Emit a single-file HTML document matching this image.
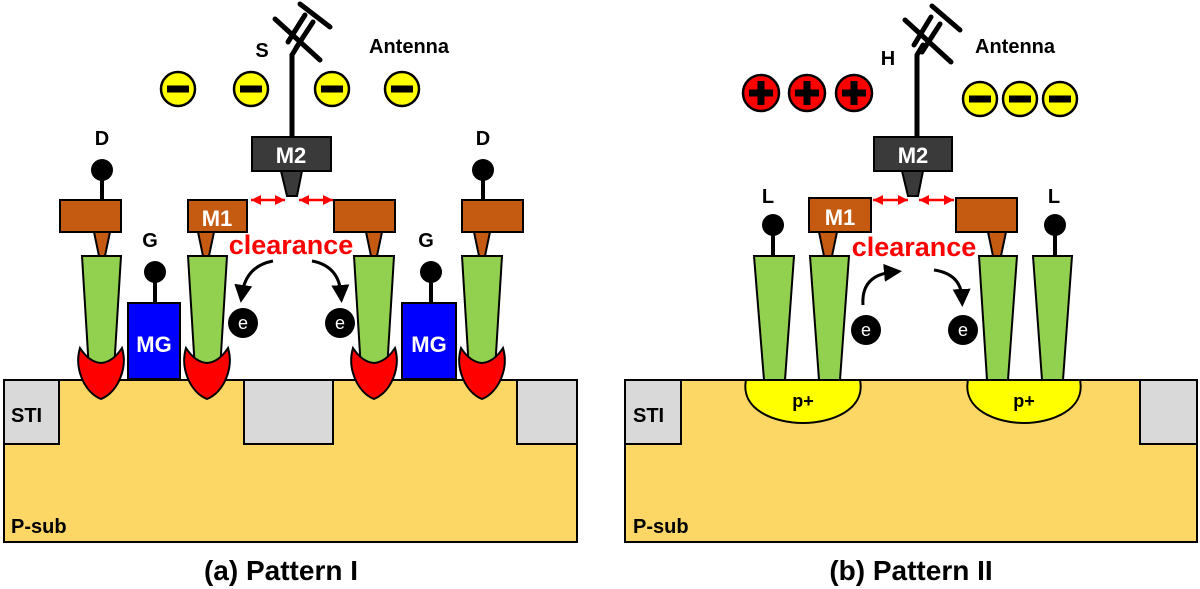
<!DOCTYPE html>
<html><head><meta charset="utf-8"><style>
html,body{margin:0;padding:0;background:#fff;}
svg{display:block;font-family:"Liberation Sans",sans-serif;font-weight:bold;}
</style></head><body>
<svg width="1200" height="589" viewBox="0 0 1200 589" xmlns="http://www.w3.org/2000/svg">
<defs>
<g id="minus"><circle r="17" fill="#ffff00" stroke="#000" stroke-width="2.5"/><rect x="-11" y="-3.5" width="22" height="7" fill="#000"/></g>
<g id="plus"><circle r="18" fill="#ff0000" stroke="#000" stroke-width="2.5"/><rect x="-12" y="-3.5" width="24" height="7" fill="#000"/><rect x="-3.5" y="-12" width="7" height="24" fill="#000"/></g>
<g id="ecirc"><circle r="15" fill="#000"/><text x="0" y="6" font-size="18" fill="#fff" text-anchor="middle" font-weight="normal">e</text></g>
<marker id="ah" markerWidth="6" markerHeight="6" refX="3" refY="3" orient="auto" markerUnits="strokeWidth"><path d="M0,0 L6,3 L0,6 Z" fill="#000"/></marker>
<marker id="ra" markerWidth="4" markerHeight="4" refX="4" refY="2" orient="auto-start-reverse" markerUnits="strokeWidth"><path d="M0,0 L4,2 L0,4 Z" fill="#f00"/></marker>
</defs>

<!-- ============ LEFT PANEL ============ -->
<rect x="4" y="380" width="573" height="162" fill="#fdd766" stroke="#000" stroke-width="2"/>
<rect x="4" y="380" width="55" height="64" fill="#d9d9d9" stroke="#000" stroke-width="2"/>
<rect x="244" y="380" width="89" height="64" fill="#d9d9d9" stroke="#000" stroke-width="2"/>
<rect x="517" y="380" width="60" height="64" fill="#d9d9d9" stroke="#000" stroke-width="2"/>
<text x="11" y="422" font-size="20">STI</text>
<text x="11" y="533" font-size="20">P-sub</text>
<text x="281" y="580" font-size="28" text-anchor="middle">(a) Pattern I</text>

<g stroke="#000" stroke-width="5" fill="none" stroke-linecap="round">
<path d="M292,137 L292,55 L298,45"/>
<line x1="275" y1="19" x2="320" y2="60"/>
<line x1="300" y1="4" x2="330" y2="27"/>
<line x1="288" y1="42" x2="305" y2="15"/>
<line x1="296" y1="48" x2="313" y2="22"/>
</g>
<text x="262" y="57" font-size="20" text-anchor="middle">S</text>
<text x="369" y="53" font-size="20">Antenna</text>
<use href="#minus" x="178" y="89"/><use href="#minus" x="251" y="89"/><use href="#minus" x="332" y="89"/><use href="#minus" x="402" y="89"/>

<rect x="252" y="137" width="79" height="34" fill="#3a3a3a" stroke="#000" stroke-width="2"/>
<text x="291" y="163" font-size="22" fill="#fff" text-anchor="middle">M2</text>
<path d="M281,171 L302,171 L297,196 L287,196 Z" fill="#3a3a3a" stroke="#000" stroke-width="2"/>
<g stroke="#f00" stroke-width="2.5" marker-end="url(#ra)" marker-start="url(#ra)">
<line x1="251" y1="200" x2="285" y2="200"/>
<line x1="299" y1="200" x2="333" y2="200"/>
</g>

<g fill="#c55a11" stroke="#000" stroke-width="2">
<rect x="60" y="200" width="61" height="32"/>
<rect x="188" y="200" width="59" height="32"/>
<rect x="334" y="200" width="61" height="32"/>
<rect x="462" y="200" width="61" height="32"/>
<path d="M94,232 L110,232 L105,256 L99,256 Z"/>
<path d="M198,232 L214,232 L209,256 L203,256 Z"/>
<path d="M366,232 L382,232 L377,256 L371,256 Z"/>
<path d="M474,232 L490,232 L485,256 L479,256 Z"/>
</g>
<text x="217" y="226" font-size="22" fill="#fff" text-anchor="middle">M1</text>

<g stroke="#000" stroke-width="4"><line x1="102" y1="170" x2="102" y2="200"/><line x1="483" y1="170" x2="483" y2="200"/>
<line x1="155" y1="272" x2="155" y2="303"/><line x1="431" y1="272" x2="431" y2="303"/></g>
<circle cx="102" cy="170" r="11"/><circle cx="483" cy="170" r="11"/>
<circle cx="155" cy="272" r="11"/><circle cx="431" cy="272" r="11"/>
<text x="102" y="145" font-size="20" text-anchor="middle">D</text>
<text x="483" y="145" font-size="20" text-anchor="middle">D</text>
<text x="150" y="247" font-size="20" text-anchor="middle">G</text>
<text x="426" y="247" font-size="20" text-anchor="middle">G</text>

<g fill="#92d050" stroke="#000" stroke-width="2">
<path d="M82,256 L121,256 L114,370 L89,370 Z"/>
<path d="M188,256 L227,256 L220,370 L195,370 Z"/>
<path d="M354,256 L394,256 L387,370 L361,370 Z"/>
<path d="M462,256 L502,256 L495,370 L469,370 Z"/>
</g>
<rect x="128" y="303" width="52" height="76" fill="#0000ff" stroke="#000" stroke-width="2"/>
<rect x="402" y="303" width="54" height="76" fill="#0000ff" stroke="#000" stroke-width="2"/>
<text x="154" y="352" font-size="22" fill="#fff" text-anchor="middle">MG</text>
<text x="429" y="352" font-size="22" fill="#fff" text-anchor="middle">MG</text>
<g fill="#ff0000" stroke="#000" stroke-width="2">
<path d="M80,348 C74,368 84,392 101,399 C118,392 128,368 122,348 Q113,362 101,363 Q89,362 80,348 Z"/>
<path d="M186,348 C180,368 190,392 207,399 C224,392 234,368 228,348 Q219,362 207,363 Q195,362 186,348 Z"/>
<path d="M353,348 C347,368 357,392 374,399 C391,392 401,368 395,348 Q386,362 374,363 Q362,362 353,348 Z"/>
<path d="M461,348 C455,368 465,392 482,399 C499,392 509,368 503,348 Q494,362 482,363 Q470,362 461,348 Z"/>
</g>

<text x="291" y="254" font-size="27" fill="#ff0000" text-anchor="middle">clearance</text>
<g stroke="#000" stroke-width="3" fill="none" marker-end="url(#ah)">
<path d="M273,261 Q246,266 242,294"/>
<path d="M312,261 Q339,266 341,294"/>
</g>
<use href="#ecirc" x="243" y="323"/><use href="#ecirc" x="340" y="323"/>

<!-- ============ RIGHT PANEL ============ -->
<rect x="625" y="380" width="572" height="162" fill="#fdd766" stroke="#000" stroke-width="2"/>
<rect x="625" y="380" width="56" height="64" fill="#d9d9d9" stroke="#000" stroke-width="2"/>
<rect x="1140" y="380" width="57" height="64" fill="#d9d9d9" stroke="#000" stroke-width="2"/>
<text x="633" y="422" font-size="20">STI</text>
<text x="633" y="533" font-size="20">P-sub</text>
<text x="911" y="580" font-size="28" text-anchor="middle">(b) Pattern II</text>
<path d="M746,380 C740,410 775,423 803,423 C831,423 866,410 860,380 Z" fill="#ffff00" stroke="#000" stroke-width="2"/>
<path d="M968,380 C962,410 997,423 1024,423 C1051,423 1086,410 1080,380 Z" fill="#ffff00" stroke="#000" stroke-width="2"/>
<text x="803" y="407" font-size="18" text-anchor="middle">p+</text>
<text x="1024" y="407" font-size="18" text-anchor="middle">p+</text>

<g stroke="#000" stroke-width="5" fill="none" stroke-linecap="round">
<path d="M917,137 L917,55 L923,45"/>
<line x1="905" y1="20" x2="951" y2="62"/>
<line x1="932" y1="6" x2="960" y2="30"/>
<line x1="914" y1="45" x2="931" y2="17"/>
<line x1="922" y1="52" x2="940" y2="24"/>
</g>
<text x="888" y="65" font-size="20" text-anchor="middle">H</text>
<text x="975" y="53" font-size="20">Antenna</text>
<use href="#plus" x="761" y="93"/><use href="#plus" x="807" y="93"/><use href="#plus" x="854" y="93"/>
<use href="#minus" x="980" y="99"/><use href="#minus" x="1020" y="99"/><use href="#minus" x="1060" y="99"/>

<rect x="874" y="137" width="78" height="34" fill="#3a3a3a" stroke="#000" stroke-width="2"/>
<text x="913" y="163" font-size="22" fill="#fff" text-anchor="middle">M2</text>
<path d="M902,171 L923,171 L918,196 L908,196 Z" fill="#3a3a3a" stroke="#000" stroke-width="2"/>
<g stroke="#f00" stroke-width="2.5" marker-end="url(#ra)" marker-start="url(#ra)">
<line x1="873" y1="200" x2="908" y2="200"/>
<line x1="919" y1="200" x2="954" y2="200"/>
</g>
<g fill="#c55a11" stroke="#000" stroke-width="2">
<rect x="809" y="198" width="62" height="34"/>
<rect x="956" y="198" width="61" height="34"/>
<path d="M819,232 L837,232 L832,256 L824,256 Z"/>
<path d="M988,232 L1006,232 L1001,256 L993,256 Z"/>
</g>
<text x="840" y="225" font-size="22" fill="#fff" text-anchor="middle">M1</text>
<g stroke="#000" stroke-width="4"><line x1="773" y1="225" x2="773" y2="256"/><line x1="1055" y1="225" x2="1055" y2="256"/></g>
<circle cx="773" cy="225" r="11"/><circle cx="1055" cy="225" r="11"/>
<text x="768" y="203" font-size="20" text-anchor="middle">L</text>
<text x="1054" y="203" font-size="20" text-anchor="middle">L</text>
<g fill="#92d050" stroke="#000" stroke-width="2">
<path d="M754,256 L794,256 L785,380 L764,380 Z"/>
<path d="M810,256 L849,256 L840,380 L819,380 Z"/>
<path d="M979,256 L1017,256 L1008,380 L987,380 Z"/>
<path d="M1033,256 L1072,256 L1063,380 L1042,380 Z"/>
</g>
<text x="914" y="256" font-size="27" fill="#ff0000" text-anchor="middle">clearance</text>
<g stroke="#000" stroke-width="3" fill="none" marker-end="url(#ah)">
<path d="M863,305 Q861,275 893,272"/>
<path d="M934,270 Q961,274 962,298"/>
</g>
<use href="#ecirc" x="866" y="330"/><use href="#ecirc" x="963" y="330"/>
</svg>
</body></html>
